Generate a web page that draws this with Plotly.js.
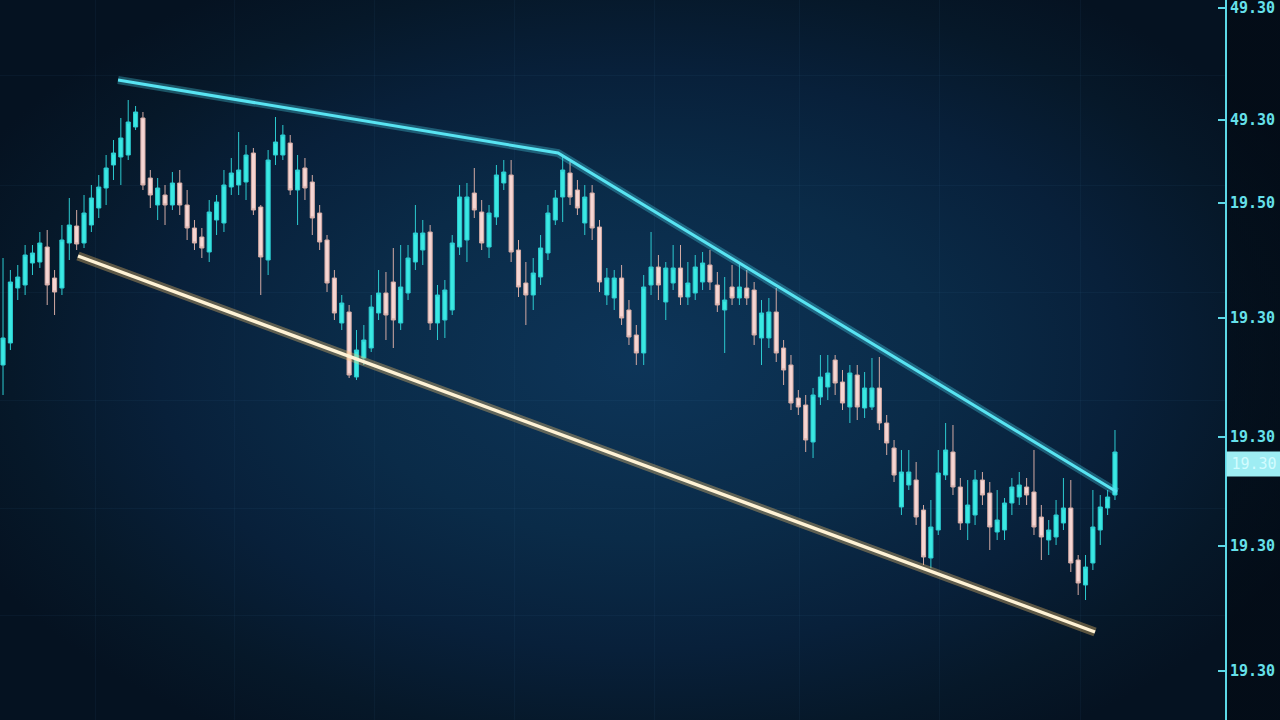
<!DOCTYPE html>
<html>
<head>
<meta charset="utf-8">
<script src="https://cdn.plot.ly/plotly-3.0.1.min.js"></script>
<style>
  html, body { margin:0; padding:0; width:1280px; height:720px; overflow:hidden; background:#05111f; }
  #chart {
    width:1280px; height:720px;
    background:
      linear-gradient(to right, rgba(0,0,0,0) 1225px, rgba(2,8,16,0.55) 1226px),
      radial-gradient(ellipse 58% 62% at 50% 50%, #0d3559 0%, #0a2b48 40%, #08203a 65%, #061829 85%, #051221 100%);
  }
</style>
</head>
<body>
<div id="chart"></div>
<script>
// OHLC series (one candle per period, left to right)
const open = [19.355,19.377,19.432,19.435,19.457,19.458,19.473,19.442,19.432,19.477,
  19.494,19.477,19.495,19.512,19.532,19.555,19.563,19.565,19.593,19.602,
  19.542,19.515,19.525,19.515,19.537,19.515,19.492,19.483,19.468,19.500,
  19.497,19.533,19.535,19.538,19.567,19.513,19.460,19.565,19.565,19.577,
  19.530,19.552,19.538,19.507,19.480,19.442,19.397,19.408,19.343,19.362,
  19.372,19.407,19.427,19.438,19.397,19.427,19.458,19.470,19.488,19.397,
  19.400,19.410,19.473,19.480,19.527,19.508,19.473,19.503,19.537,19.545,
  19.470,19.437,19.425,19.443,19.467,19.500,19.523,19.547,19.530,19.497,
  19.527,19.493,19.425,19.422,19.442,19.410,19.385,19.367,19.435,19.453,
  19.418,19.437,19.452,19.423,19.427,19.438,19.455,19.435,19.410,19.433,
  19.422,19.432,19.430,19.382,19.382,19.408,19.372,19.355,19.322,19.315,
  19.278,19.323,19.333,19.360,19.338,19.313,19.345,19.312,19.313,19.332,
  19.297,19.272,19.213,19.235,19.240,19.210,19.162,19.190,19.245,19.268,
  19.233,19.197,19.205,19.240,19.227,19.188,19.190,19.217,19.223,19.233,
  19.228,19.203,19.180,19.183,19.197,19.212,19.160,19.135,19.157,19.190,
  19.212,19.225];
const high = [19.462,19.450,19.455,19.475,19.475,19.488,19.490,19.450,19.495,19.522,
  19.510,19.525,19.535,19.545,19.565,19.580,19.602,19.620,19.614,19.608,
  19.550,19.542,19.535,19.548,19.550,19.530,19.500,19.492,19.520,19.525,
  19.550,19.562,19.588,19.575,19.572,19.515,19.570,19.603,19.595,19.585,
  19.565,19.562,19.545,19.515,19.485,19.450,19.425,19.415,19.390,19.395,
  19.425,19.450,19.448,19.472,19.475,19.475,19.515,19.500,19.495,19.435,
  19.440,19.485,19.535,19.537,19.552,19.520,19.515,19.555,19.560,19.560,
  19.480,19.458,19.462,19.485,19.515,19.530,19.565,19.558,19.540,19.535,
  19.535,19.500,19.452,19.450,19.455,19.420,19.395,19.445,19.488,19.465,
  19.458,19.475,19.475,19.458,19.465,19.468,19.470,19.448,19.443,19.455,
  19.458,19.450,19.438,19.420,19.422,19.432,19.380,19.365,19.330,19.325,
  19.332,19.365,19.365,19.365,19.350,19.355,19.355,19.348,19.362,19.363,
  19.305,19.280,19.270,19.270,19.258,19.215,19.220,19.270,19.297,19.295,
  19.242,19.240,19.250,19.248,19.238,19.230,19.222,19.242,19.248,19.242,
  19.270,19.215,19.200,19.220,19.242,19.240,19.165,19.165,19.230,19.225,
  19.230,19.290];
const low = [19.325,19.370,19.420,19.425,19.445,19.452,19.415,19.405,19.425,19.460,
  19.470,19.472,19.488,19.502,19.515,19.540,19.535,19.560,19.590,19.530,
  19.512,19.500,19.495,19.510,19.505,19.480,19.470,19.462,19.458,19.485,
  19.488,19.525,19.525,19.520,19.505,19.425,19.445,19.555,19.560,19.525,
  19.495,19.520,19.485,19.470,19.428,19.400,19.390,19.342,19.340,19.355,
  19.368,19.400,19.380,19.372,19.390,19.420,19.450,19.455,19.390,19.380,
  19.382,19.405,19.465,19.458,19.502,19.470,19.462,19.495,19.530,19.458,
  19.423,19.395,19.410,19.435,19.460,19.495,19.498,19.515,19.505,19.485,
  19.480,19.428,19.415,19.410,19.395,19.375,19.355,19.355,19.425,19.420,
  19.400,19.430,19.415,19.415,19.420,19.430,19.430,19.408,19.367,19.415,
  19.415,19.415,19.375,19.355,19.372,19.358,19.335,19.310,19.305,19.268,
  19.262,19.315,19.320,19.325,19.310,19.297,19.300,19.302,19.310,19.290,
  19.265,19.238,19.205,19.230,19.195,19.155,19.152,19.185,19.240,19.225,
  19.190,19.180,19.195,19.215,19.170,19.180,19.180,19.205,19.215,19.215,
  19.185,19.160,19.165,19.175,19.190,19.148,19.125,19.120,19.150,19.175,
  19.205,19.220];
const close = [19.382,19.438,19.443,19.465,19.467,19.477,19.435,19.428,19.480,19.495,
  19.476,19.507,19.522,19.533,19.552,19.567,19.582,19.598,19.608,19.535,
  19.525,19.532,19.515,19.537,19.515,19.492,19.477,19.472,19.508,19.518,
  19.535,19.547,19.550,19.565,19.510,19.463,19.560,19.578,19.585,19.530,
  19.550,19.532,19.502,19.478,19.437,19.407,19.417,19.345,19.370,19.380,
  19.413,19.427,19.405,19.400,19.433,19.462,19.487,19.487,19.397,19.425,
  19.430,19.477,19.523,19.523,19.510,19.477,19.507,19.545,19.548,19.468,
  19.433,19.425,19.447,19.472,19.507,19.522,19.550,19.523,19.512,19.523,
  19.492,19.438,19.442,19.442,19.402,19.383,19.367,19.433,19.453,19.435,
  19.452,19.452,19.423,19.437,19.453,19.457,19.438,19.415,19.420,19.422,
  19.433,19.422,19.385,19.407,19.408,19.367,19.350,19.317,19.313,19.280,
  19.325,19.343,19.347,19.337,19.317,19.347,19.313,19.332,19.332,19.297,
  19.277,19.245,19.248,19.248,19.203,19.163,19.193,19.247,19.270,19.233,
  19.197,19.215,19.240,19.225,19.193,19.200,19.217,19.233,19.235,19.225,
  19.193,19.183,19.190,19.205,19.212,19.157,19.137,19.153,19.193,19.213,
  19.223,19.268];

// Trend lines (candle index, price)
const upperX = [15.62, 75.37, 151.27];
const upperY = [19.640, 19.567, 19.228];
const lowerX = [10.18, 148.29];
const lowerY = [19.464, 19.088];

// Axis labels
const tickVals = [19.712, 19.600, 19.517, 19.402, 19.283, 19.174, 19.049];
const tickText = ["49.30", "49.30", "19.50", "19.30", "19.30", "19.30", "19.30"];
const gridY = [19.645, 19.535, 19.428, 19.320, 19.212, 19.105];
const gridX = [12.5, 31.5, 50.5, 69.5, 88.5, 108.2, 127.2, 146.3];
const lastPrice = 19.256;
const lastLabel = "19.30";

const traces = [
  {
    type: 'scatter', mode: 'lines', x: upperX, y: upperY,
    line: {color: 'rgba(80,230,250,0.30)', width: 8}, hoverinfo: 'skip', showlegend: false
  },
  {
    type: 'scatter', mode: 'lines', x: lowerX, y: lowerY,
    line: {color: 'rgba(255,200,110,0.35)', width: 9}, hoverinfo: 'skip', showlegend: false
  },
  {
    type: 'candlestick',
    open: open, high: high, low: low, close: close,
    increasing: {line: {color: '#2ccbd0', width: 1}, fillcolor: '#3ae9e3'},
    decreasing: {line: {color: '#d3aaa4', width: 1}, fillcolor: '#f6d6d3'},
    whiskerwidth: 0, showlegend: false, hoverinfo: 'skip'
  },
  {
    type: 'scatter', mode: 'lines', x: upperX, y: upperY,
    line: {color: '#58e4f2', width: 3}, hoverinfo: 'skip', showlegend: false
  },
  {
    type: 'scatter', mode: 'lines', x: lowerX, y: lowerY,
    line: {color: '#fff3d6', width: 3.4}, hoverinfo: 'skip', showlegend: false
  }
];

const layout = {
  width: 1280, height: 720,
  margin: {l: 0, r: 55, t: 0, b: 0, pad: 0},
  paper_bgcolor: 'rgba(0,0,0,0)',
  plot_bgcolor: 'rgba(0,0,0,0)',
  showlegend: false,
  boxgap: 0.2,
  xaxis: {
    range: [-0.41, 165.94],
    rangeslider: {visible: false},
    tickvals: gridX, showticklabels: false, ticks: '',
    showgrid: true, gridcolor: 'rgba(90,150,200,0.06)', gridwidth: 1,
    zeroline: false, showline: false
  },
  yaxis: {
    range: [19.0, 19.72],
    side: 'right',
    tickvals: tickVals, ticktext: tickText,
    ticklabeloverflow: 'allow',
    ticks: 'inside', ticklen: 7, tickwidth: 2, tickcolor: '#5cd8e6',
    tickfont: {family: 'DejaVu Sans Mono, monospace', size: 15, color: '#66e0ea', weight: 'bold'},
    showline: true, linecolor: '#5cd8e6', linewidth: 2,
    showgrid: false, zeroline: false,
    minor: {tickvals: gridY, showgrid: true, gridcolor: 'rgba(90,150,200,0.06)', gridwidth: 1, ticks: ''}
  },
  annotations: [{
    xref: 'paper', x: 1, xanchor: 'left', xshift: 1,
    yref: 'y', y: lastPrice, yanchor: 'middle',
    text: lastLabel, showarrow: false,
    bgcolor: '#9eedf3', borderpad: 3, width: 48, height: 18,
    font: {family: 'DejaVu Sans Mono, monospace', size: 15, color: '#d2fcff'}
  }]
};

Plotly.newPlot('chart', traces, layout, {staticPlot: true, displayModeBar: false});
</script>
</body>
</html>
